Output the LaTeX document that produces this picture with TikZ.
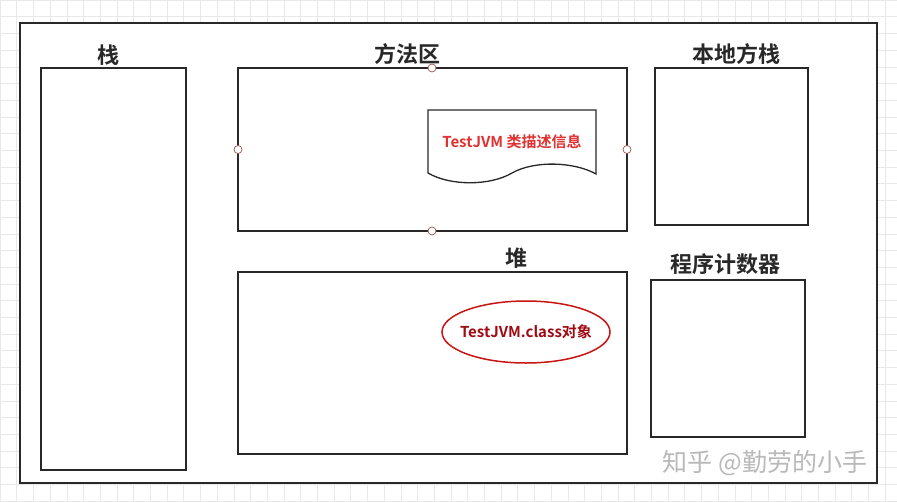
\documentclass[tikz,border=0pt]{standalone}
\usepackage{fontspec}
\setmainfont{Noto Sans CJK SC}
\newfontfamily\cjkb{Noto Sans CJK SC Bold}
\usetikzlibrary{shapes.geometric}
\definecolor{linec}{RGB}{40,40,40}
\definecolor{redtxt}{RGB}{225,50,50}
\definecolor{darkred}{RGB}{160,10,20}
\definecolor{ellc}{RGB}{200,20,20}
\definecolor{portc}{RGB}{160,80,80}
\definecolor{gridc}{RGB}{232,232,232}
\definecolor{wmark}{RGB}{185,185,185}
\tikzset{
  box/.style={draw=linec, line width=1.6pt, fill=white},
  title/.style={font=\cjkb\fontsize{22}{24}\selectfont, text=linec, inner sep=0pt},
  port/.style={circle, draw=portc, fill=white, line width=0.7pt, minimum size=8pt, inner sep=0pt},
}
\begin{document}
\begin{tikzpicture}[x=1pt,y=-1pt]
\useasboundingbox (0,0) rectangle (897,501);
\fill[white] (0,0) rectangle (897,501);
\draw[gridc, line width=0.6pt, step=16.7pt] (0,0) grid (897,501);
% outer frame
\draw[box] (20,23) rectangle (877,483);
% stack
\draw[box] (41,68) rectangle (186,470);
\node[title] (lstack) at (108,55) {栈};
% method area
\draw[box] (238,68) rectangle (627,231);
\node[title] (lmethod) at (407,54) {方法区};
\node[port] (p1) at (238,149.5) {};
\node[port] (p2) at (627,149.5) {};
\node[port] (p3) at (432,68) {};
\node[port] (p4) at (432,231) {};
% document shape
\draw[draw=linec, line width=1.3pt, fill=white] (428,173) -- (428,110) -- (596,110) -- (596,174)
  .. controls (575,162) and (535,160) .. (512,173)
  .. controls (490,186) and (450,186) .. (428,173) -- cycle;
\node[font=\cjkb\fontsize{15}{17}\selectfont, text=redtxt, inner sep=0pt] (doc) at (512,142) {TestJVM 类描述信息};
% heap
\draw[box] (238,272) rectangle (627,454);
\node[title] (lheap) at (516,258) {堆};
\node[ellipse, draw=ellc, line width=1.5pt, minimum width=168pt, minimum height=62pt, inner sep=0pt] (obj) at (526,332) {};
\node[font=\cjkb\fontsize{15}{17}\selectfont, text=darkred, inner sep=0pt] (objtxt) at (obj.center) {TestJVM.class对象};
% native stack
\draw[box] (655,68) rectangle (808,225);
\node[title] (lnative) at (736,54) {本地方栈};
% program counter
\draw[box] (651,280) rectangle (805,437);
\node[title] (lpc) at (725,264) {程序计数器};
% watermark
\node[font=\fontsize{25}{27}\selectfont, text=wmark, inner sep=0pt] (wm) at (765,463) {知乎 @勤劳的小手};
\end{tikzpicture}
\end{document}
